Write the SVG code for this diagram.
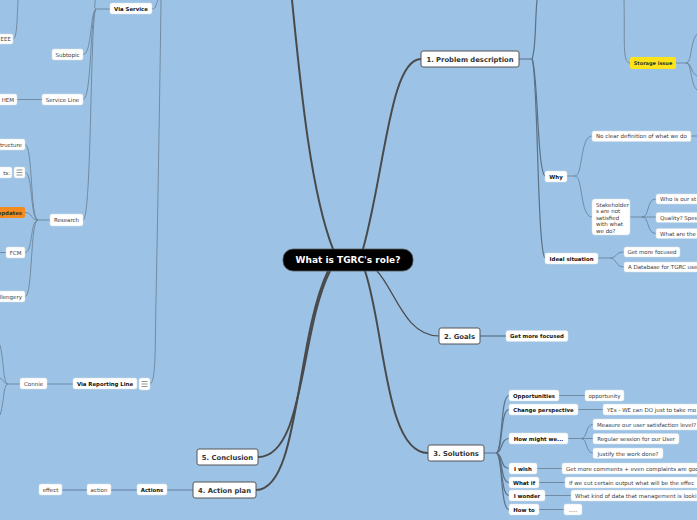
<svg xmlns="http://www.w3.org/2000/svg" width="697" height="520" viewBox="0 0 697 520">
<style>
text{font-family:"DejaVu Sans","Liberation Sans",sans-serif;}
.n{fill:#fff;stroke:#d6dde4;stroke-width:0.5;}
.l1{fill:#fff;stroke:#555;stroke-width:1;}
.t{font-size:5.5px;fill:#3a3a3a;}
.tb{font-size:5.4px;font-weight:bold;fill:#111;}
.t1{font-size:6.8px;font-weight:bold;fill:#333;}
.m{text-anchor:middle;}
.e{text-anchor:end;}
.c0{fill:none;stroke:#4a4a4a;stroke-width:2;stroke-linecap:round;}
.c0t{fill:none;stroke:#4a4a4a;stroke-width:1.2;}
.c1{fill:none;stroke:#5b7186;stroke-width:1.2;}
.c2{fill:none;stroke:#6c849b;stroke-width:0.9;}
.c3{fill:none;stroke:#7c9cbc;stroke-width:1.8;}
.ic{stroke:#888;stroke-width:0.9;}
</style>
<rect x="0" y="0" width="697" height="520" fill="#9cc3e6"/>
<g id="connectors">
<path class="c0" d="M333,249 C 310,190 300,80 292,0"/>
<path class="c0" d="M363,249 C 385,170 390,59 421,59"/>
<path class="c0t" d="M377,271 C 395,290 405,336 439,336"/>
<path class="c0" d="M365,271 C 385,330 385,453 428,453"/>
<path class="c0" d="M330,271 C 300,330 305,457 258,457"/>
<path class="c0" d="M328,271 C 295,340 300,490 256,490"/>
<path class="c1" d="M519,59 L532,59 C 536,50 535,20 537,0"/>
<path class="c1" d="M532,59 C 538,70 537,170 545,176"/>
<path class="c1" d="M532,59 C 538,70 537,250 545,258"/>
<path class="c2" d="M567,176 L575,176 C 583,176 580,136 592,136"/>
<path class="c2" d="M575,176 C 583,176 580,217 592,217"/>
<path class="c2" d="M691,136 L697,136"/>
<path class="c2" d="M630,217 L642,217 C 650,217 646,199 656,199"/>
<path class="c2" d="M642,217 L656,217"/>
<path class="c2" d="M642,217 C 650,217 646,233.5 656,233.5"/>
<path class="c2" d="M598,258 L610,258 C 617,258 615,252 624,252"/>
<path class="c2" d="M610,258 C 617,258 615,267 624,267"/>
<path class="c2" d="M624,0 C 625,40 622,63 630,63"/>
<path class="c2" d="M676,63 L686,63 C 692,63 690,42 697,34"/>
<path class="c2" d="M686,63 C 692,63 690,72 697,76"/>
<path class="c2" d="M686,63 C 692,63 690,84 697,90"/>
<path class="c1" d="M480,336 L506,336"/>
<path class="c1" d="M484,453 L496,453 C 503,453 500,395.5 509,395.5"/>
<path class="c1" d="M496,453 C 503,453 500,409.5 509,409.5"/>
<path class="c1" d="M496,453 C 503,453 500,438.5 509,438.5"/>
<path class="c1" d="M496,453 C 503,453 500,468.5 509,468.5"/>
<path class="c1" d="M496,453 C 503,453 500,482.5 509,482.5"/>
<path class="c1" d="M496,453 C 503,453 500,495.5 509,495.5"/>
<path class="c1" d="M496,453 C 503,453 500,509.5 509,509.5"/>
<path class="c2" d="M559,395.5 L585,395.5"/>
<path class="c2" d="M578,409.5 L603,409.5"/>
<path class="c2" d="M568,438.5 L581,438.5 C 588,438.5 585,424.5 593,424.5"/>
<path class="c2" d="M581,438.5 L593,438.5"/>
<path class="c2" d="M581,438.5 C 588,438.5 585,453 593,453"/>
<path class="c2" d="M537,468.5 L562,468.5"/>
<path class="c2" d="M539,482.5 L565,482.5"/>
<path class="c2" d="M545,495.5 L571,495.5"/>
<path class="c2" d="M539,509.5 L564,509.5"/>
<path class="c3" d="M193,490 L167,490"/>
<path class="c3" d="M137,490 L111,490"/>
<path class="c3" d="M87,490 L62,490"/>
<path class="c2" d="M150,384 C 156,382 155,350 156,300 C 158,200 160,80 161,0"/>
<path class="c2" d="M73,384 L47,384"/>
<path class="c2" d="M20,384 L8,384 C 3,384 4,360 0,345"/>
<path class="c2" d="M8,384 C 4,384 3,379 0,378"/>
<path class="c2" d="M8,384 C 3,384 4,405 0,415"/>
<path class="c2" d="M152,9 C 156,9 156,4 158,0"/>
<path class="c2" d="M110,9 L96,9 C 93,7 96,3 95,0"/>
<path class="c2" d="M96,9 C 90,12 92,54.5 83,54.5"/>
<path class="c2" d="M96,9 C 90,12 92,99.5 83,99.5"/>
<path class="c2" d="M96,9 C 90,12 92,220 83,220"/>
<path class="c2" d="M42,99.5 L17,99.5"/>
<path class="c2" d="M13,39 C 17,39 17,20 18,0"/>
<path class="c2" d="M50,220 L38,220 C 30,220 33,144.5 25,144.5"/>
<path class="c2" d="M38,220 C 30,220 33,172.5 25,172.5"/>
<path class="c2" d="M38,220 C 30,220 33,212.5 25,212.5"/>
<path class="c2" d="M38,220 C 30,220 33,252.5 25,252.5"/>
<path class="c2" d="M38,220 C 30,220 33,296.5 25,296.5"/>
<path class="c2" d="M6,252.5 L0,252.5"/>
</g>
<g id="root"><rect x="283" y="249" width="130" height="22" rx="10" fill="#000" stroke="#555" stroke-width="0.8"/><text x="348" y="263.3" class="m" style="font-size:9px;font-weight:bold;fill:#fff">What is TGRC's role?</text></g>
<g id="problem"><rect class="l1" x="421" y="51" width="98" height="16" rx="2"/><text class="t1 m" x="470" y="61.5">1. Problem description</text></g>
<g id="goals"><rect class="l1" x="439" y="328" width="41" height="16" rx="2"/><text class="t1 m" x="459.5" y="338.5">2. Goals</text></g>
<g id="solutions"><rect class="l1" x="428" y="445" width="56" height="16" rx="2"/><text class="t1 m" x="456" y="455.5">3. Solutions</text></g>
<g id="conclusion"><rect class="l1" x="197" y="449" width="61" height="16" rx="2"/><text class="t1 m" x="227.5" y="459.5">5. Conclusion</text></g>
<g id="actionplan"><rect class="l1" x="193" y="482" width="63" height="16" rx="2"/><text class="t1 m" x="224.5" y="492.5">4. Action plan</text></g>
<g id="goals-focused"><rect class="n" x="506" y="330.5" width="62" height="11" rx="2"/><text class="tb m" x="537" y="338">Get more focused</text></g>
<g id="why"><rect class="n" x="545" y="171" width="22" height="11" rx="2"/><text class="tb m" x="556" y="178.5">Why</text></g>
<g id="ideal"><rect class="n" x="545" y="253" width="53" height="11" rx="2"/><text class="tb m" x="571.5" y="260.5">Ideal situation</text></g>
<g id="noclear"><rect class="n" x="592" y="131" width="99" height="10.5" rx="2"/><text class="t m" x="641.5" y="138.3">No clear definition of what we do</text></g>
<g id="stakeholders"><rect class="n" x="592" y="199" width="38" height="36" rx="3"/><text class="t" x="596"><tspan x="596" y="206.5">Stakeholder</tspan><tspan x="596" y="213">s are not</tspan><tspan x="596" y="219.5">satisfied</tspan><tspan x="596" y="226">with what</tspan><tspan x="596" y="232.5">we do?</tspan></text></g>
<g id="whois"><rect class="n" x="656" y="194" width="50" height="10" rx="2"/><text class="t" x="660" y="201.2">Who is our st</text></g>
<g id="quality"><rect class="n" x="656" y="212.5" width="50" height="10" rx="2"/><text class="t" x="660" y="219.7">Quality? Spee</text></g>
<g id="whatare"><rect class="n" x="656" y="228.5" width="50" height="10" rx="2"/><text class="t" x="660" y="235.7">What are the</text></g>
<g id="ideal-focused"><rect class="n" x="624" y="247" width="56" height="10" rx="2"/><text class="t m" x="652" y="254.2">Get more focused</text></g>
<g id="database"><rect class="n" x="624" y="262" width="80" height="10" rx="2"/><text class="t" x="628" y="269.2">A Database for TGRC use</text></g>
<g id="storage"><rect x="630" y="57" width="46" height="12" rx="2" fill="#ffe31a"/><text class="tb m" x="653" y="65" style="font-size:5px;fill:#333">Storage issue</text></g>
<g id="opportunities"><rect class="n" x="509" y="390" width="50" height="11" rx="2"/><text class="tb m" x="534" y="397.5">Opportunities</text></g>
<g id="opportunity"><rect class="n" x="585" y="390" width="39" height="11" rx="2"/><text class="t m" x="604.5" y="397.5">opportunity</text></g>
<g id="change"><rect class="n" x="509" y="404" width="69" height="11" rx="2"/><text class="tb m" x="543.5" y="411.5">Change perspective</text></g>
<g id="yes"><rect class="n" x="603" y="404" width="100" height="11" rx="2"/><text class="t" x="607" y="411.5">YEs - WE can DO just to take mo</text></g>
<g id="howmight"><rect class="n" x="509" y="433" width="59" height="11" rx="2"/><text class="tb m" x="538.5" y="440.5">How might we...</text></g>
<g id="measure"><rect class="n" x="593" y="419" width="110" height="11" rx="2"/><text class="t" x="597" y="426.5">Measure our user satisfaction level?</text></g>
<g id="regular"><rect class="n" x="593" y="433.5" width="86" height="10.5" rx="2"/><text class="t m" x="636" y="441">Regular session for our User</text></g>
<g id="justify"><rect class="n" x="593" y="448" width="70" height="10.5" rx="2"/><text class="t m" x="628" y="455.5">Justify the work done?</text></g>
<g id="iwish"><rect class="n" x="509" y="463" width="28" height="11" rx="2"/><text class="tb m" x="523" y="470.5">I wish</text></g>
<g id="comments"><rect class="n" x="562" y="463" width="140" height="11" rx="2"/><text class="t" x="566" y="470.5">Get more comments + even complaints are goo</text></g>
<g id="whatif"><rect class="n" x="509" y="477" width="30" height="11" rx="2"/><text class="tb m" x="524" y="484.5">What if</text></g>
<g id="cut"><rect class="n" x="565" y="477" width="140" height="11" rx="2"/><text class="t" x="569" y="484.5">If we cut certain output what will be the effec</text></g>
<g id="iwonder"><rect class="n" x="509" y="490" width="36" height="11" rx="2"/><text class="tb m" x="527" y="497.5">I wonder</text></g>
<g id="kind"><rect class="n" x="571" y="490" width="135" height="11" rx="2"/><text class="t" x="575" y="497.5">What kind of data that management is looki</text></g>
<g id="howto"><rect class="n" x="509" y="504" width="30" height="11" rx="2"/><text class="tb m" x="524" y="511.5">How to</text></g>
<g id="dots"><rect class="n" x="564" y="504" width="18" height="11" rx="2"/><text class="t m" x="573" y="511.5">.....</text></g>
<g id="actions"><rect class="n" x="137" y="484" width="30" height="11" rx="2"/><text class="tb m" x="152" y="491.5">Actions</text></g>
<g id="action"><rect class="n" x="87" y="484" width="24" height="11" rx="2"/><text class="t m" x="99" y="491.5">action</text></g>
<g id="effect"><rect class="n" x="39" y="484" width="23" height="11" rx="2"/><text class="t m" x="50.5" y="491.5">effect</text></g>
<g id="reporting"><rect class="n" x="73" y="378" width="64" height="11" rx="2"/><text class="tb m" x="105" y="385.5">Via Reporting Line</text><rect class="n" x="139" y="378" width="11" height="12" rx="2"/><line class="ic" x1="141.5" y1="381.5" x2="147.5" y2="381.5"/><line class="ic" x1="141.5" y1="384" x2="147.5" y2="384"/><line class="ic" x1="141.5" y1="386.5" x2="147.5" y2="386.5"/></g>
<g id="connie"><rect class="n" x="20" y="378" width="27" height="11" rx="2"/><text class="t m" x="33.5" y="385.5">Connie</text></g>
<g id="viaservice"><rect class="n" x="110" y="3" width="42" height="11" rx="2"/><text class="tb m" x="131" y="10.5">Via Service</text></g>
<g id="subtopic"><rect class="n" x="52" y="49" width="31" height="11" rx="2"/><text class="t m" x="67.5" y="56.5">Subtopic</text></g>
<g id="serviceline"><rect class="n" x="42" y="94" width="41" height="11" rx="2"/><text class="t m" x="62.5" y="101.5">Service Line</text></g>
<g id="hem"><rect class="n" x="-5" y="94" width="22" height="11" rx="2"/><text class="t e" x="14" y="101.5">HEM</text></g>
<g id="eee"><rect class="n" x="-5" y="34" width="18" height="10" rx="2"/><text class="t e" x="11" y="41">EEE</text></g>
<g id="research"><rect class="n" x="50" y="214" width="33" height="12" rx="2"/><text class="t m" x="66.5" y="222">Research</text></g>
<g id="structure"><rect class="n" x="-5" y="139" width="30" height="11" rx="2"/><text class="t e" x="22" y="146.5">tructure</text></g>
<g id="ts"><rect class="n" x="-5" y="167" width="17" height="11" rx="2"/><text class="t e" x="10" y="174.5">ts:</text><rect class="n" x="14" y="167" width="11" height="11" rx="2"/><line class="ic" x1="16.5" y1="170" x2="22.5" y2="170"/><line class="ic" x1="16.5" y1="172.5" x2="22.5" y2="172.5"/><line class="ic" x1="16.5" y1="175" x2="22.5" y2="175"/></g>
<g id="updates"><rect x="-5" y="207" width="30" height="11" rx="2" fill="#f58a1f"/><text class="tb e" x="22" y="214.5" style="fill:#333">updates</text></g>
<g id="fcm"><rect class="n" x="6" y="247" width="19" height="11" rx="2"/><text class="t m" x="15.5" y="254.5">FCM</text></g>
<g id="llengery"><rect class="n" x="-5" y="291" width="30" height="11" rx="2"/><text class="t e" x="22" y="298.5">llengery</text></g>
</svg>
